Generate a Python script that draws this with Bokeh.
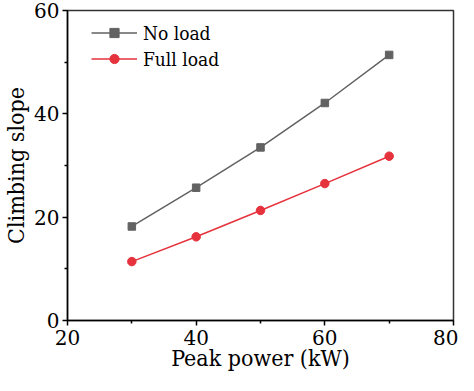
from bokeh.plotting import figure
from bokeh.models import Range1d, Legend, LegendItem, FixedTicker
from bokeh.embed import file_html
from bokeh.resources import INLINE

power = [30, 40, 50, 60, 70]
no_load = [18.2, 25.7, 33.5, 42.1, 51.4]
full_load = [11.4, 16.2, 21.3, 26.5, 31.8]
x_ticks = [20, 40, 60, 80]
y_ticks = [0, 20, 40, 60]

GRAY = "#626262"
RED = "#e5323c"
FONT = "DejaVu Serif"
FONT_C = "DejaVu Serif Condensed"

p = figure(width=458, height=375, output_backend="svg", toolbar_location=None,
           x_range=Range1d(20, 80), y_range=Range1d(0, 60),
           min_border_left=62, min_border_top=10, min_border_right=5, min_border_bottom=55)
p.background_fill_color = "white"
p.border_fill_color = "white"
p.grid.visible = False
p.outline_line_color = "#333333"
p.outline_line_width = 1.5

l1 = p.line(power, no_load, line_color=GRAY, line_width=1.5)
m1 = p.scatter(power, no_load, marker="square", size=7.5, fill_color=GRAY, line_color=GRAY)
l2 = p.line(power, full_load, line_color=RED, line_width=1.5)
m2 = p.scatter(power, full_load, marker="circle", size=8.5, fill_color=RED, line_color=RED)

for ax, ticks, minor in ((p.xaxis[0], x_ticks, [30, 50, 70]), (p.yaxis[0], y_ticks, [10, 30, 50])):
    ax.ticker = FixedTicker(ticks=ticks, minor_ticks=minor)
    ax.axis_line_color = "black"
    ax.axis_line_width = 1.5
    ax.major_tick_line_color = "black"
    ax.major_tick_line_width = 1.5
    ax.minor_tick_line_color = "black"
    ax.minor_tick_line_width = 1.5
    ax.major_tick_out = 5
    ax.major_tick_in = 0
    ax.minor_tick_out = 3
    ax.minor_tick_in = 0
    ax.major_label_text_font = FONT
    ax.major_label_text_font_size = "20px"
    ax.major_label_text_color = "black"
    ax.axis_label_text_font = FONT_C
    ax.axis_label_text_font_size = "23px"
    ax.axis_label_text_font_style = "normal"
    ax.axis_label_text_color = "black"

p.xaxis.axis_label = "Peak power (kW)"
p.yaxis.axis_label = "Climbing slope"
p.xaxis.major_label_standoff = 4
p.yaxis.major_label_standoff = 3
p.xaxis.axis_label_standoff = -3
p.yaxis.axis_label_standoff = 2

legend = Legend(items=[LegendItem(label="No load", renderers=[l1, m1]),
                       LegendItem(label="Full load", renderers=[l2, m2])],
                location=(24, 250))
legend.border_line_color = None
legend.background_fill_alpha = 0
legend.label_text_font = FONT_C
legend.label_text_font_size = "19px"
legend.label_text_color = "black"
legend.glyph_width = 46
legend.glyph_height = 23
legend.label_standoff = 6
legend.spacing = 3
legend.margin = 0
legend.padding = 0
p.add_layout(legend)

open("out.html", "w").write(file_html(p, INLINE))
